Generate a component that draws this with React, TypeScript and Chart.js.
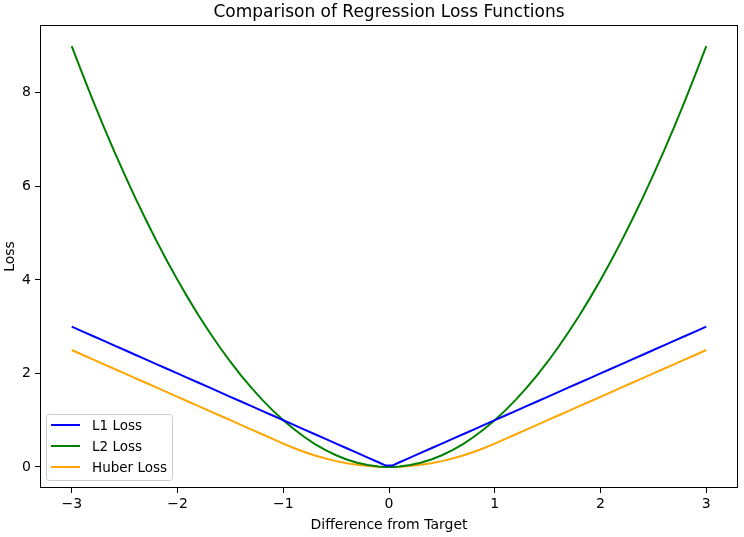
import React, { useEffect, useRef } from "react";
import { Chart, registerables } from "chart.js";

Chart.register(...registerables);

const xValues = [
  -3.0, -2.9, -2.8, -2.7, -2.6, -2.5, -2.4, -2.3, -2.2, -2.1, -2.0, -1.9, -1.8, -1.7, -1.6, -1.5,
  -1.4, -1.3, -1.2, -1.1, -1.0, -0.9, -0.8, -0.7, -0.6, -0.5, -0.4, -0.3, -0.2, -0.1, -0.03,
  0.03, 0.1, 0.2, 0.3, 0.4, 0.5, 0.6, 0.7, 0.8, 0.9, 1.0, 1.1, 1.2, 1.3, 1.4, 1.5, 1.6, 1.7,
  1.8, 1.9, 2.0, 2.1, 2.2, 2.3, 2.4, 2.5, 2.6, 2.7, 2.8, 2.9, 3.0,
];
const l1Values = [
  3.0, 2.9, 2.8, 2.7, 2.6, 2.5, 2.4, 2.3, 2.2, 2.1, 2.0, 1.9, 1.8, 1.7, 1.6, 1.5,
  1.4, 1.3, 1.2, 1.1, 1.0, 0.9, 0.8, 0.7, 0.6, 0.5, 0.4, 0.3, 0.2, 0.1, 0.03,
  0.03, 0.1, 0.2, 0.3, 0.4, 0.5, 0.6, 0.7, 0.8, 0.9, 1.0, 1.1, 1.2, 1.3, 1.4, 1.5, 1.6, 1.7,
  1.8, 1.9, 2.0, 2.1, 2.2, 2.3, 2.4, 2.5, 2.6, 2.7, 2.8, 2.9, 3.0,
];
const l2Values = [
  9.0, 8.41, 7.84, 7.29, 6.76, 6.25, 5.76, 5.29, 4.84, 4.41, 4.0, 3.61, 3.24, 2.89, 2.56, 2.25,
  1.96, 1.69, 1.44, 1.21, 1.0, 0.81, 0.64, 0.49, 0.36, 0.25, 0.16, 0.09, 0.04, 0.01, 0.0009,
  0.0009, 0.01, 0.04, 0.09, 0.16, 0.25, 0.36, 0.49, 0.64, 0.81, 1.0, 1.21, 1.44, 1.69, 1.96, 2.25,
  2.56, 2.89, 3.24, 3.61, 4.0, 4.41, 4.84, 5.29, 5.76, 6.25, 6.76, 7.29, 7.84, 8.41, 9.0,
];
const huberValues = [
  2.5, 2.4, 2.3, 2.2, 2.1, 2.0, 1.9, 1.8, 1.7, 1.6, 1.5, 1.4, 1.3, 1.2, 1.1, 1.0,
  0.9, 0.8, 0.7, 0.6, 0.5, 0.405, 0.32, 0.245, 0.18, 0.125, 0.08, 0.045, 0.02, 0.005, 0.00045,
  0.00045, 0.005, 0.02, 0.045, 0.08, 0.125, 0.18, 0.245, 0.32, 0.405, 0.5, 0.6, 0.7, 0.8, 0.9, 1.0,
  1.1, 1.2, 1.3, 1.4, 1.5, 1.6, 1.7, 1.8, 1.9, 2.0, 2.1, 2.2, 2.3, 2.4, 2.5,
];
const seriesLabels = ["L1 Loss", "L2 Loss", "Huber Loss"];
const seriesColors = ["#0000ff", "#008000", "#ffa500"];
const titleText = "Comparison of Regression Loss Functions";
const xTitle = "Difference from Target";
const yTitle = "Loss";

const FONT = "DejaVu Sans";

const fmt = (v: number) => {
  const s = String(Math.round(v));
  return v < 0 ? "\u2212" + s.replace("-", "") : s;
};

export default function App() {
  const ref = useRef<HTMLCanvasElement | null>(null);
  useEffect(() => {
    if (!ref.current) return;
    const series = [l1Values, l2Values, huberValues];
    const decor = {
      id: "decor",
      afterDraw(chart: any) {
        const { ctx, chartArea } = chart;
        const { left, top, right, bottom } = chartArea;
        ctx.save();
        ctx.strokeStyle = "#000";
        ctx.lineWidth = 1;
        ctx.strokeRect(Math.round(left) + 0.5, Math.round(top) + 0.5, Math.round(right - left) - 1, Math.round(bottom - top) - 1);
        ctx.fillStyle = "#000";
        ctx.font = `17px "${FONT}"`;
        ctx.textAlign = "center";
        ctx.textBaseline = "alphabetic";
        ctx.fillText(titleText, (left + right) / 2, 17);
        ctx.font = `14px "${FONT}"`;
        ctx.fillText(xTitle, (left + right) / 2, 529);
        ctx.save();
        ctx.translate(14, (top + bottom) / 2);
        ctx.rotate(-Math.PI / 2);
        ctx.fillText(yTitle, 0, 0);
        ctx.restore();
        const bx = 46.5, by = 414.5, bw = 126, bh = 66;
        ctx.beginPath();
        (ctx as any).roundRect(bx, by, bw, bh, 3);
        ctx.fillStyle = "rgba(255,255,255,0.8)";
        ctx.fill();
        ctx.strokeStyle = "#cccccc";
        ctx.lineWidth = 1;
        ctx.stroke();
        chart.data.datasets.forEach((ds: any, i: number) => {
          const y = 425 + 21 * i;
          ctx.beginPath();
          ctx.strokeStyle = ds.borderColor;
          ctx.lineWidth = 2;
          ctx.moveTo(51, y);
          ctx.lineTo(80, y);
          ctx.stroke();
          ctx.fillStyle = "#000";
          ctx.font = `13.5px "${FONT}"`;
          ctx.textAlign = "left";
          ctx.textBaseline = "middle";
          ctx.fillText(ds.label, 92, y + 1);
        });
        ctx.restore();
      },
    };
    const chart = new Chart(ref.current, {
      type: "line",
      data: {
        datasets: series.map((vals, i) => ({
          label: seriesLabels[i],
          data: xValues.map((x, j) => ({ x, y: vals[j] })),
          borderColor: seriesColors[i],
          backgroundColor: seriesColors[i],
          borderWidth: 2,
          pointRadius: 0,
          tension: 0,
          fill: false,
        })),
      },
      options: {
        animation: false,
        responsive: false,
        maintainAspectRatio: false,
        layout: { padding: { top: 25, right: 6, left: 0, bottom: 0 } },
        plugins: {
          legend: { display: false },
          title: { display: false },
          tooltip: { enabled: false },
        },
        scales: {
          x: {
            type: "linear",
            min: -3.3,
            max: 3.3,
            afterFit: (s: any) => {
              s.height = 49;
            },
            border: { display: false },
            grid: { drawOnChartArea: false, drawTicks: true, tickLength: 5, color: "#000" },
            ticks: {
              stepSize: 1,
              includeBounds: false,
              color: "#000",
              padding: 3,
              maxRotation: 0,
              font: { family: FONT, size: 14 },
              callback: (v: any) => fmt(Number(v)),
            },
          },
          y: {
            type: "linear",
            min: -0.45,
            max: 9.45,
            afterFit: (s: any) => {
              s.width = 40;
            },
            border: { display: false },
            grid: { drawOnChartArea: false, drawTicks: true, tickLength: 5, color: "#000" },
            ticks: {
              stepSize: 2,
              includeBounds: false,
              color: "#000",
              padding: 4,
              font: { family: FONT, size: 14 },
              callback: (v: any) => fmt(Number(v)),
            },
          },
        },
      },
      plugins: [decor],
    } as any);
    return () => chart.destroy();
  }, []);
  return (
    <div style={{ position: "fixed", left: 0, top: 0, width: 744, height: 537, background: "#fff" }}>
      <canvas ref={ref} width={744} height={537} style={{ width: 744, height: 537, display: "block" }} />
    </div>
  );
}
